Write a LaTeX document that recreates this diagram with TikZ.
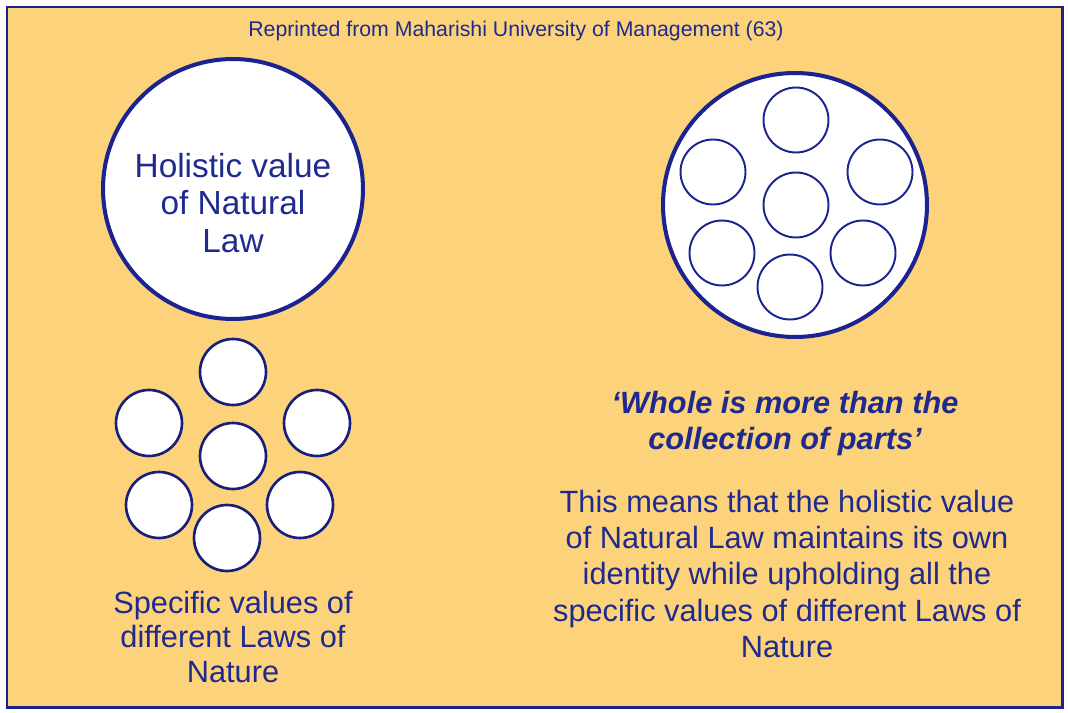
\documentclass[tikz,border=0pt]{standalone}
\usepackage{fontspec}
\setmainfont{Liberation Sans}
\usepackage{tikz}
\usetikzlibrary{positioning}

\definecolor{panel}{HTML}{FCD27B}
\definecolor{ink}{HTML}{1F2A8E}
\definecolor{rim}{HTML}{1B2391}

\begin{document}
\begin{tikzpicture}[x=0.02cm, y=-0.02cm,
  whole/.style={circle, draw=rim, line width=2.3pt, fill=white, minimum size=5.2cm, inner sep=0pt},
  part/.style={circle, draw=rim!85!black, line width=1.5pt, fill=white, minimum size=1.32cm, inner sep=0pt},
  inpart/.style={circle, draw=rim, line width=1.1pt, fill=white, minimum size=1.3cm, inner sep=0pt},
  txt/.style={text=ink, align=center, font=\fontsize{17.5}{20.5}\selectfont}]
  \useasboundingbox (0,0) rectangle (1068,713);
  \draw[draw=rim, line width=1.7pt, fill=panel] (7,7) rectangle (1062,707);
  \node[text=ink, font=\fontsize{12.1}{14}\selectfont] (src) at (516,31) {Reprinted from Maharishi University of Management (63)};

  % left side: the whole, then the parts
  \node[whole] (w) at (233,189) {};
  \node[txt, font=\fontsize{19}{21.5}\selectfont] (wl) at (233,203) {Holistic value\\of Natural\\Law};
  \node[part] (a) at (233,372) {};
  \node[part] (b) at (149,423) {};
  \node[part] (c) at (317,423) {};
  \node[part] (d) at (233,456) {};
  \node[part] (e) at (159,505) {};
  \node[part] (f) at (300,505) {};
  \node[part] (g) at (227,538) {};
  \node[txt, font=\fontsize{17.5}{19.5}\selectfont] (lbl) at (233,637) {Specific values of\\different Laws of\\Nature};

  % right side: parts inside the whole
  \node[whole, minimum size=5.28cm] (W) at (795,205) {};
  \node[inpart] (A) at (796,120) {};
  \node[inpart] (B) at (713,172) {};
  \node[inpart] (C) at (880,172) {};
  \node[inpart] (D) at (796,205) {};
  \node[inpart] (E) at (722,253) {};
  \node[inpart] (F) at (863,253) {};
  \node[inpart] (G) at (790,287) {};
  \node[txt, font=\fontsize{17.5}{20.5}\selectfont\bfseries\itshape] (q) at (785,424) {‘Whole is more than the\\collection of parts’};
  \node[txt] (m) at (787,574) {This means that the holistic value\\of Natural Law maintains its own\\identity while upholding all the\\specific values of different Laws of\\Nature};
\end{tikzpicture}
\end{document}
